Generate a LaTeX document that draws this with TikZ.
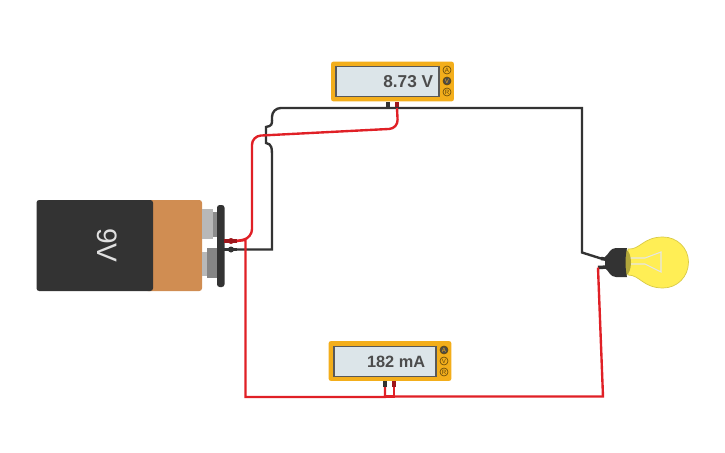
\documentclass[tikz,border=0pt]{standalone}
\usepackage{fontspec}
\setsansfont{Liberation Sans}
\usepackage{tikz}
\usetikzlibrary{positioning, calc}
\definecolor{meterorange}{HTML}{F3AE1B}
\definecolor{screenblue}{HTML}{DCE5E9}
\definecolor{wirered}{HTML}{E02026}
\definecolor{wireblack}{HTML}{333333}
\definecolor{copper}{HTML}{D08D52}
\definecolor{glass}{HTML}{FFEE55}
\tikzset{
  meterbody/.style={fill=meterorange, rounded corners=1.5pt, minimum width=2.46cm, minimum height=0.8cm, inner sep=0pt},
  meterscreen/.style={fill=screenblue, draw=black!65, line width=1.1pt, minimum width=2.05cm, minimum height=0.6cm, inner sep=0pt},
  metervalue/.style={font=\sffamily\bfseries\fontsize{9.8pt}{10pt}\selectfont, text=black!70, inner sep=0pt},
  dialoff/.style={circle, draw=black!60!meterorange, line width=0.35pt, minimum size=0.16cm, inner sep=0pt, font=\sffamily\fontsize{3.5pt}{3.5pt}\selectfont, text=black!60!meterorange},
  dialon/.style={dialoff, fill=black!70, text=meterorange},
  redwire/.style={draw=wirered, line width=1.35pt, rounded corners=5pt},
  blackwire/.style={draw=wireblack, line width=1.35pt, rounded corners=5pt},
  blacklead/.style={draw=wireblack, line width=2pt},
  redlead/.style={draw=wirered!70!black, line width=2pt},
}
\begin{document}
\begin{tikzpicture}[x=0.02cm, y=-0.02cm]

            % Page margins
            \useasboundingbox (0,0) rectangle (725,453);

            % Battery
            \fill[copper, rounded corners=1.5pt] (145,200) rectangle (202,291);
            \fill[wireblack, rounded corners=1.5pt] (36.5,200) -- (153,200) -- (153,291) -- (36.5,291) -- cycle;
            \node[rotate=-90, text=black!12, font=\sffamily\fontsize{16pt}{16pt}\selectfont, inner sep=0pt] (batlabel) at (107,245.5) {9V};

            % Battery terminals and clip
            \fill[black!28] (202,209) rectangle (213,239);
            \fill[black!45] (213,212) rectangle (218,237);
            \fill[black!28] (202,252) rectangle (208,276);
            \fill[black!48] (207,248) rectangle (218,278);
            \fill[wireblack, rounded corners=1.5pt] (217,205) rectangle (224.5,287);

            % Battery leads
            \coordinate (clipred) at (224,241);
            \coordinate (batred) at (237,241);
            \coordinate (clipblack) at (224,249.5);
            \coordinate (batblack) at (237,249.5);
            \draw[redlead] (clipred) -- (batred);
            \draw[blacklead] (clipblack) -- (batblack);
            \fill[wirered!70!black] (231,241) circle (3);
            \fill[wireblack] (231,249.5) circle (3);

            % Voltmeter
            \node[meterbody] (voltmeter) at (392.5,81.5) {};
            \node[meterscreen] (voltscreen) at (387.5,81.5) {};
            \node[metervalue, anchor=east] (voltvalue) at (433.5,82) {8.73 V};
            \node[dialoff] (voltA) at (447,70) {A};
            \node[dialon] (voltV) at (447,81) {V};
            \node[dialoff] (voltR) at (447,92) {R};
            \coordinate (voltblack) at (388,102);
            \coordinate (voltblackend) at (388,108);
            \coordinate (voltred) at (397,102);
            \coordinate (voltredend) at (397,108);

            % Ammeter
            \node[meterbody] (ammeter) at (390,361) {};
            \node[meterscreen] (ampscreen) at (385,361.5) {};
            \node[metervalue, anchor=east, font=\sffamily\bfseries\fontsize{9.3pt}{10pt}\selectfont] (ampvalue) at (425.5,362) {182 mA};
            \node[dialon] (ampA) at (444,350) {A};
            \node[dialoff] (ampV) at (444,361) {V};
            \node[dialoff] (ampR) at (444,372) {R};
            \coordinate (ampblack) at (385,381);
            \coordinate (ampblackend) at (385,387);
            \coordinate (ampred) at (394,381);
            \coordinate (ampredend) at (394,387);

            % Bulb
            \draw[fill=glass, draw=glass!85!black, line width=0.4pt] (628,249) .. controls (640,250) and (643,237) .. (663,237) .. controls (677,237) and (688.5,248) .. (688.5,262) .. controls (688.5,277) and (677,288) .. (663,288) .. controls (643,288) and (640,275) .. (628,275) -- cycle;
            \draw[black!10, line width=0.6pt] (625,258) -- (645,258) -- (661,252) -- (661,272) -- (645,264) -- (625,264);
            \fill[glass!70!black] (625,249) .. controls (633,251) and (633,274) .. (625,276) -- cycle;
            \fill[wireblack] (627,248) -- (616,248) .. controls (610,248) and (609,254) .. (605,257) -- (605,268) .. controls (609,271) and (610,277) .. (616,277) -- (627,277) .. controls (625,268) and (625,257) .. (627,248) -- cycle;

            % Bulb terminals
            \coordinate (bulbblack) at (608,259.5);
            \coordinate (bulbred) at (608,267);
            \coordinate (bulbblackend) at (601,258.5);
            \coordinate (bulbredend) at (598,267.5);
            \draw[blacklead] (bulbblack) -- (bulbblackend);
            \draw[blacklead] (bulbred) -- (bulbredend);

            % Meter leads
            \draw[blacklead] (voltblack) -- (voltblackend);
            \draw[redlead] (voltred) -- (voltredend);
            \draw[blacklead] (ampblack) -- (ampblackend);
            \draw[redlead] (ampred) -- (ampredend);

            % Black wires
            \draw[blackwire, rounded corners=0pt] (batblack) -- (272,249.5) -- (272,158) .. controls (272,148) and (272,144) .. (266,143) -- (266,127) .. controls (272,126) and (272,124) .. (272,120);
            \draw[blackwire] (272,121) -- (272,108) -- (400,108) [sharp corners] -- (582,108) -- (582,252.5) -- (bulbblackend);

            % Red wires
            \draw[redwire] (batred) -- (252,238) -- (252,136) -- (398,128.5) -- (voltredend);
            \draw[redwire, rounded corners=0pt] (batred) -- (245.5,240) -- (245.5,397) -- (385,397) -- (ampblackend);
            \draw[redwire, rounded corners=0pt] (ampredend) -- (394,396.5) -- (385,396.5);
            \draw[redwire, rounded corners=0pt] (394,396.5) -- (603,396.5) -- (bulbredend);

            \end{tikzpicture}
\end{document}
